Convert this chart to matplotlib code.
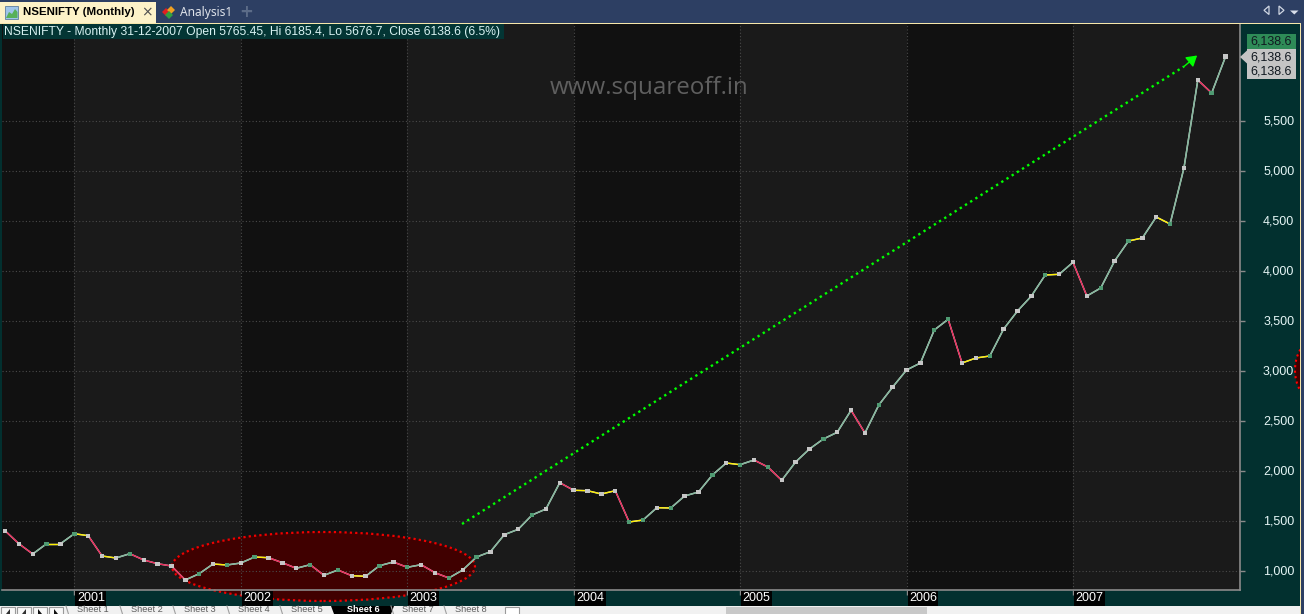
import matplotlib
matplotlib.use("Agg")
import matplotlib.pyplot as plt
import matplotlib.transforms as mtrans
from matplotlib.collections import LineCollection
from matplotlib.patches import Rectangle, Ellipse, Polygon

# ---------- data ----------
close = [1398, 1268, 1165, 1268, 1268, 1368, 1348, 1145, 1125, 1168, 1105, 1068, 1045,
         905, 968, 1065, 1055, 1075, 1135, 1128, 1078, 1022, 1058, 952, 1005, 948, 942,
         1048, 1085, 1032, 1058, 978, 925, 1005, 1135, 1188, 1358, 1412, 1555, 1615,
         1878, 1802, 1798, 1765, 1798, 1485, 1505, 1628, 1625, 1745, 1785, 1955, 2075,
         2058, 2105, 2035, 1902, 2085, 2215, 2315, 2382, 2602, 2375, 2655, 2835, 3005,
         3075, 3405, 3512, 3075, 3125, 3145, 3415, 3595, 3745, 3955, 3962, 4082, 3745,
         3825, 4095, 4295, 4325, 4535, 4465, 5025, 5905, 5775, 6138.6]
# colour of the segment that leads into each point from the second one on
segment_kinds = ("dduyuydyud" "ddduuyuuyd" "dududyuudu" "dduuuuuuuu" "dyyydyuyuu"
                 "uuyudduuuu" "uduuuuuudy" "yuuuuyuduu" "uyuyuudu")
marker_kinds = ("sssgsgsssgssssgsgsgsssgsgssgsgssgsgsssg"
                "ssssssggsgssgsgsgsssgsssgsssggssgsssgsssgsgssgssgsg")
marker_kinds = (marker_kinds + "s" * 89)[:89]
year_ticks = [5, 17, 29, 41, 53, 65, 77]
year_labels = ["2001", "2002", "2003", "2004", "2005", "2006", "2007"]
price_ticks = [1000, 1500, 2000, 2500, 3000, 3500, 4000, 4500, 5000, 5500]
dark_bands = [(-1, 5), (17, 29), (41, 53), (65, 77)]
light_bands = [(5, 17), (29, 41), (53, 65), (77, 90)]
trend_x = [32.95, 85.0]
trend_y = [1465, 6040]
zone_center = (22.96, 1040)
zone_size = (21.85, 690)
title_text = "NSENIFTY - Monthly 31-12-2007 Open 5765.45, Hi 6185.4, Lo 5676.7, Close 6138.6 (6.5%)"
sheet_names = ["Sheet 1", "Sheet 2", "Sheet 3", "Sheet 4", "Sheet 5", "Sheet 6", "Sheet 7", "Sheet 8"]
sheet_centers = [93, 147, 200, 254, 307, 363, 418, 471]

# ---------- layout ----------
W, H = 1304, 614
TEAL = "#02302f"
NAVY = "#2d3f63"
CREAM = "#f6e7ab"
FONT = "Liberation Sans"
plt.rcParams["font.family"] = FONT

fig = plt.figure(figsize=(W / 100, H / 100), dpi=100, facecolor=TEAL)

chrome = fig.add_axes([0, 0, 1, 1], zorder=0)
chrome.set_xlim(0, W); chrome.set_ylim(H, 0); chrome.axis("off")
chrome.add_patch(Ellipse((1312, 370), 34, 56, fc="#400000", ec="#ff0000", ls=":", lw=1.5))

L, R, T, B = 2, 1240, 24, 590
x0_px, dx_px = 5, 13.87
y_px_1000 = 570.5
ax = fig.add_axes([L / W, 1 - B / H, (R - L) / W, (B - T) / H], zorder=2)
ax.set_xlim((L - x0_px) / dx_px, (R - x0_px) / dx_px)
ax.set_ylim(1000 + (y_px_1000 - B) * 10, 1000 + (y_px_1000 - T) * 10)
ax.set_facecolor("#1a1a1a")

for a, b in dark_bands:
    ax.axvspan(a, b, color="#111111", lw=0, zorder=0.5)
for a, b in light_bands:
    ax.axvspan(a, b, color="#1a1a1a", lw=0, zorder=0.5)

ax.add_patch(Ellipse(zone_center, zone_size[0], zone_size[1], fc="#400000", ec="#f00000",
                     ls=(0, (1, 1.4)), lw=1.6, zorder=1, clip_on=False))

# price line
xs = list(range(len(close)))
segs = [[(xs[i], close[i]), (xs[i + 1], close[i + 1])] for i in range(len(close) - 1)]
kind_color = {"u": "#84b89d", "d": "#ee2658", "y": "#fff000"}
ax.add_collection(LineCollection(segs, colors="#d8d8d8", linewidths=1.05, zorder=2))
ax.add_collection(LineCollection(segs, colors=[kind_color[k] for k in segment_kinds],
                                 linewidths=[1.05 if k == "u" else 0.95 for k in segment_kinds], zorder=2.1))
ax.scatter(xs, close, marker="s", s=10, lw=0, zorder=3,
           c=["#4f9a72" if m == "g" else "#c6c6c6" for m in marker_kinds])

# trend arrow
ax.plot(trend_x, trend_y, color="#00ff00", lw=1.7, ls=(0, (1, 1.6)), zorder=2.5)
ax.annotate("", xy=(85.95, 6150), xytext=(85.0, 6040),
            arrowprops=dict(arrowstyle="-|>,head_width=0.38,head_length=0.62", color="#00ff00", lw=1,
                            shrinkA=0, shrinkB=0), zorder=2.6)

ax.text(0.5226, 0.887, "www.squareoff.in", transform=ax.transAxes, family="Open Sans",
        fontsize=17.4, color="#5f5f5f", ha="center", va="center", zorder=1.2)

# axes
ax.grid(True, color="#4a4a4a", lw=0.8, ls=(0, (1, 2)))
ax.set_xticks(year_ticks, year_labels)
ax.yaxis.tick_right()
ax.set_yticks(price_ticks, [f"{v:,}" for v in price_ticks])
ax.tick_params(axis="y", length=3.6, width=1, color="#8a8a8a", labelcolor="#e6f6f6", labelsize=9, pad=35.5)
ax.tick_params(axis="x", length=3.6, width=1, color="#8a8a8a", labelcolor="white", labelsize=9, pad=-2)
for lab in ax.get_yticklabels():
    lab.set_ha("right")
shift = mtrans.ScaledTranslation(2.5 / 100, 0, fig.dpi_scale_trans)
for lab in ax.get_xticklabels():
    lab.set_ha("left")
    lab.set_bbox(dict(fc="black", ec="none", pad=1.0))
    lab.set_transform(lab.get_transform() + shift)
for side in ("top", "left"):
    ax.spines[side].set_visible(False)
for side in ("right", "bottom"):
    ax.spines[side].set_color("#8a8a8a")
    ax.spines[side].set_linewidth(1.2)

# ---------- overlay chrome ----------
top = fig.add_axes([0, 0, 1, 1], zorder=3)
top.set_xlim(0, W); top.set_ylim(H, 0); top.axis("off"); top.patch.set_alpha(0)

top.add_patch(Rectangle((0, 0), W, 22.5, fc=NAVY, lw=0))
top.add_patch(Rectangle((0, 22.5), 1301, 1.6, fc=CREAM, lw=0))
top.add_patch(Rectangle((1300, 22.5), 1.3, 592, fc=CREAM, lw=0))
top.add_patch(Rectangle((1301.3, 22.5), 3, 592, fc=NAVY, lw=0))
top.add_patch(Rectangle((0, 24), 1.2, 566, fc=TEAL, lw=0))

# tabs
top.add_patch(Rectangle((0, 2), 155.5, 21, fc="#fdf2c8", lw=0))
top.add_patch(Rectangle((5, 6), 13, 13, fc="#9fc4ea", ec="#5f7f9f", lw=0.6))
top.add_patch(Polygon([(6, 18), (9, 12), (12, 14), (15, 9), (17.5, 12), (17.5, 18)], fc="#58b058", lw=0))
top.text(23, 12.2, "NSENIFTY (Monthly)", family="Liberation Sans", weight="bold", fontsize=8.25, color="black", va="center")
top.text(146.5, 12, "\u00d7", family="DejaVu Sans", fontsize=10, color="#505050", va="center", ha="center")
for c, pts in (("#e02020", [(162, 12), (166, 8), (170, 12), (166, 16)]),
               ("#f0a020", [(167, 10), (171, 6), (175, 10), (171, 14)]),
               ("#30a040", [(165, 15), (169, 11), (173, 15), (169, 19)])):
    top.add_patch(Polygon(pts, fc=c, lw=0))
top.text(180.5, 12.5, "Analysis1", family="Noto Sans", fontsize=8.6, color="#dfe3ea", va="center")
top.text(246, 12, "+", family="DejaVu Sans", weight="bold", fontsize=12, color="#5c6c88", va="center", ha="center")
top.add_patch(Polygon([(1269, 6), (1269, 14.5), (1264, 10.3)], fc=NAVY, ec="#cfd6e2", lw=0.9))
top.add_patch(Polygon([(1279, 6), (1279, 14.5), (1284, 10.3)], fc=NAVY, ec="#cfd6e2", lw=0.9))
top.add_patch(Polygon([(1290, 10.5), (1298.5, 10.5), (1294.3, 14.5)], fc="#d8deea", lw=0))

# header line
top.add_patch(Rectangle((3, 24.2), 501, 14.6, fc="#033534", lw=0))
top.text(4, 31.8, title_text, fontsize=8.75, color="#d8f2f2", va="center")

# last price labels
price_text = f"{close[-1]:,.1f}"
top.add_patch(Rectangle((1247, 34), 49, 15, fc="#2e8b57", lw=0))
top.add_patch(Rectangle((1247, 49), 49, 30, fc="#c4c4c4", lw=0))
top.add_patch(Polygon([(1240, 57), (1247, 50.5), (1247, 63.5)], fc="#c4c4c4", lw=0))
for yy in (41.5, 57, 72):
    top.text(1271.5, yy, price_text, fontsize=9, color="#101820", ha="center", va="center")

# bottom strip
top.add_patch(Rectangle((0, 606), 1300, 8, fc="#f1f1f1", lw=0))
for i, x in enumerate((0, 16, 32, 48)):
    top.add_patch(Rectangle((x + 1, 607), 14, 8, fc="#f8f8f8", ec="#9a9a9a", lw=0.8))
    cx = x + 8
    if i < 2:
        top.add_patch(Polygon([(cx + 2, 608.5), (cx + 2, 613.5), (cx - 2, 613.5)], fc="#303030", lw=0))
    else:
        top.add_patch(Polygon([(cx - 2, 608.5), (cx - 2, 613.5), (cx + 2, 613.5)], fc="#101010", lw=0))
for x, name in zip(sheet_centers, sheet_names):
    active = name == "Sheet 6"
    if active:
        top.add_patch(Polygon([(331, 606), (394, 606), (391, 614), (334, 614)], fc="black", lw=0))
    else:
        top.plot([x - 27, x - 24.5], [606, 614], color="#a0a0a0", lw=0.8)
    top.text(x, 609.8, name, fontsize=6.6, color="white" if active else "#5a5a5a",
             weight="bold" if active else "normal", ha="center", va="center")
top.add_patch(Rectangle((505, 606.5), 14, 8, fc="white", ec="#9a9a9a", lw=0.8))
top.add_patch(Rectangle((726, 607), 201, 7, fc="#c8c8c8", lw=0))

fig.savefig("out.png", dpi=100, facecolor=fig.get_facecolor())
